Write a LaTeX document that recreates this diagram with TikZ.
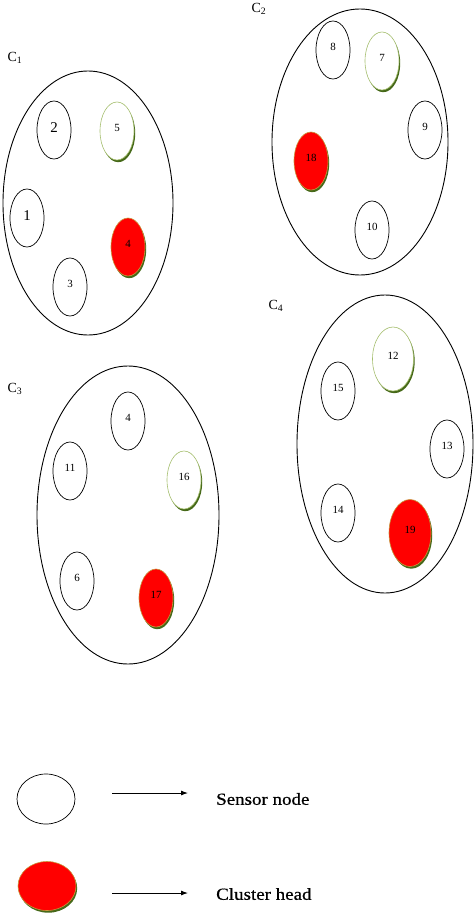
\documentclass[tikz,border=0pt]{standalone}
\usepackage{fontspec}
\setmainfont{Liberation Serif}
\newfontfamily\legfont[FakeStretch=1.12,FakeBold=0.6]{Liberation Serif}
\usetikzlibrary{shapes.geometric,shadows,arrows.meta}
\definecolor{shgreen}{RGB}{70,105,25}
\definecolor{lgreen}{RGB}{165,190,110}
\definecolor{redline}{RGB}{200,150,60}
\tikzset{
  cluster/.style={ellipse, draw=black, line width=0.9bp, inner sep=0},
  sensor/.style={ellipse, draw=black, line width=0.7bp, fill=white, inner sep=0,
    minimum width=34bp, minimum height=58bp, text depth=6bp, font=\fontsize{11}{11}\selectfont},
  bignum/.style={font=\fontsize{15}{15}\selectfont, text depth=4bp},
  greennode/.style={sensor, draw=lgreen, line width=0.6bp,
    drop shadow={shadow xshift=1.2bp, shadow yshift=-2.2bp, fill=shgreen, opacity=1}},
  headnode/.style={sensor, draw=redline, line width=0.6bp, fill=red,
    drop shadow={shadow xshift=1.2bp, shadow yshift=-2.2bp, fill=shgreen, opacity=1}},
  clab/.style={font=\fontsize{14}{14}\selectfont, inner sep=0},
  legarrow/.style={line width=0.9bp, -{Latex[length=7bp,width=5bp]}},
  legtext/.style={anchor=west, inner sep=0, font=\legfont\fontsize{17}{17}\selectfont}
}
\begin{document}
\begin{tikzpicture}[x=1bp,y=-1bp]
\useasboundingbox (0,0) rectangle (474,914);
% clusters
\node[cluster, minimum width=170bp, minimum height=264bp] (C1) at (88,203) {};
\node[cluster, minimum width=176bp, minimum height=266bp] (C2) at (360,142) {};
\node[cluster, minimum width=182bp, minimum height=298bp] (C3) at (128,515) {};
\node[cluster, minimum width=176bp, minimum height=298bp] (C4) at (385,444) {};
\node[clab] (l1) at (15,58) {C\textsubscript{1}};
\node[clab] (l2) at (259,9) {C\textsubscript{2}};
\node[clab] (l3) at (15,389) {C\textsubscript{3}};
\node[clab] (l4) at (276,306) {C\textsubscript{4}};
% C1
\node[sensor, bignum] (n2) at (54,130) {2};
\node[greennode] (n5) at (117,131) {5};
\node[sensor, bignum] (n1) at (27,218) {1};
\node[headnode] (n4) at (128,247) {4};
\node[sensor] (n3) at (70,287) {3};
% C2
\node[sensor] (n8) at (333,50) {8};
\node[greennode] (n7) at (382,61) {7};
\node[sensor] (n9) at (425,130) {9};
\node[headnode] (n18) at (311,161) {18};
\node[sensor] (n10) at (372,230) {10};
% C3
\node[sensor] (m4) at (128,421) {4};
\node[sensor] (n11) at (70,471) {11};
\node[greennode] (n16) at (184,480) {16};
\node[sensor] (n6) at (77,581) {6};
\node[headnode] (n17) at (156,598) {17};
% C4
\node[greennode, minimum width=41bp, minimum height=64bp] (n12) at (393,359) {12};
\node[sensor] (n15) at (338,391) {15};
\node[sensor] (n13) at (447,449) {13};
\node[sensor] (n14) at (338,513) {14};
\node[headnode, minimum width=42bp, minimum height=67bp] (n19) at (410,533) {19};
% legend
\node[sensor, minimum width=58bp, minimum height=50bp] (ls) at (46,799) {};
\node[headnode, minimum width=58bp, minimum height=49bp] (lh) at (47,886) {};
\coordinate (a1s) at (112,793);
\coordinate (a1e) at (188,793);
\coordinate (a2s) at (112,893);
\coordinate (a2e) at (188,893);
\draw[legarrow] (a1s) -- (a1e);
\draw[legarrow] (a2s) -- (a2e);
\node[legtext] (t1) at (216,799) {Sensor node};
\node[legtext] (t2) at (216,894) {Cluster head};
\end{tikzpicture}
\end{document}
